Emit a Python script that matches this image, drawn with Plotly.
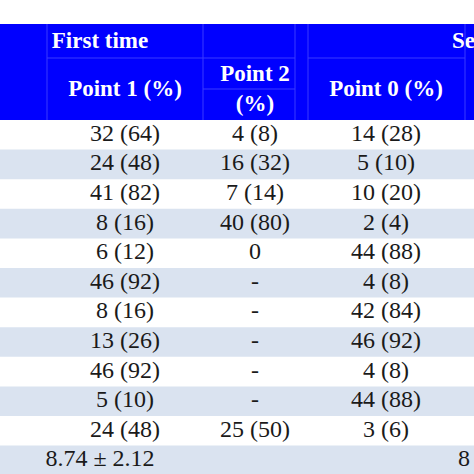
import plotly.graph_objects as go

title = "Edmonton frailty scale (EFS) completion (n= 50)"
group_labels = ["First time", "Second time"]
col_headers = ["Point 0 (%)", "Point 1 (%)", "Point 2<br>(%)", "Point 0 (%)"]
left_col = [")", ")", "", "", ")", "", ")", ")", "", ")", "", ""]
point1 = ["32 (64)", "24 (48)", "41 (82)", "8 (16)", "6 (12)", "46 (92)", "8 (16)",
          "13 (26)", "46 (92)", "5 (10)", "24 (48)", "8.74 ± 2.12"]
point2 = ["4 (8)", "16 (32)", "7 (14)", "40 (80)", "0", "-", "-", "-", "-", "-", "25 (50)", ""]
second0 = ["14 (28)", "5 (10)", "10 (20)", "2 (4)", "44 (88)", "4 (8)", "42 (84)",
           "46 (92)", "4 (8)", "44 (88)", "3 (6)", ""]
right_col = [""] * 11 + ["8"]

# geometry in pixels
W = 474
head_top, head_mid, head_bot = 24, 58, 120
row_h = 29.6
lines_x = [47, 203, 295, 308, 465]
BLUE = "#0000ff"
STRIPE = "#dae3f0"
FONT = "Liberation Serif"


def bold(items):
    return ["<b>" + t + "</b>" if t else t for t in items]


n = len(point1)
row_y = [head_bot + row_h * (i + 0.5) for i in range(n)]

fig = go.Figure()
shapes = [dict(type="rect", x0=0, x1=W, y0=head_top, y1=head_bot, fillcolor=BLUE, line_width=0, layer="below")]
for i in range(n):
    if i % 2 == 1:
        shapes.append(dict(type="rect", x0=0, x1=W, y0=head_bot + row_h * i, y1=head_bot + row_h * (i + 1),
                           fillcolor=STRIPE, line_width=0, layer="below"))
for x in lines_x:
    shapes.append(dict(type="line", x0=x, x1=x, y0=head_top, y1=head_bot, line=dict(color="#3a3aff", width=1)))
shapes.append(dict(type="line", x0=47, x1=295, y0=head_mid, y1=head_mid, line=dict(color="#3a3aff", width=1)))
shapes.append(dict(type="line", x0=308, x1=465, y0=head_mid, y1=head_mid, line=dict(color="#3a3aff", width=1)))
shapes.append(dict(type="line", x0=203, x1=295, y0=89, y1=89, line=dict(color="#3a3aff", width=1)))

# title
fig.add_trace(go.Scatter(x=[-12], y=[11], mode="text", text=bold([title]), textposition="middle right",
                         textfont=dict(family=FONT, size=24, color="black"), cliponaxis=False, hoverinfo="skip"))
# header texts
fig.add_trace(go.Scatter(x=[100, 452], y=[42, 42], mode="text", text=bold(group_labels),
                         textposition=["middle center", "middle right"],
                         textfont=dict(family=FONT, size=23, color="white"), cliponaxis=False, hoverinfo="skip"))
fig.add_trace(go.Scatter(x=[-30, 125, 255, 386], y=[90, 90, 90, 90], mode="text", text=bold(col_headers),
                         textposition="middle center",
                         textfont=dict(family=FONT, size=23, color="white"), cliponaxis=False, hoverinfo="skip"))
# body
body_font = dict(family=FONT, size=24, color="#1a1a1a")
fig.add_trace(go.Scatter(x=[-3] * n, y=row_y, mode="text", text=left_col, textposition="middle right",
                         textfont=body_font, cliponaxis=False, hoverinfo="skip"))
fig.add_trace(go.Scatter(x=[125] * (n - 1) + [100], y=row_y, mode="text", text=point1, textposition="middle center",
                         textfont=body_font, cliponaxis=False, hoverinfo="skip"))
fig.add_trace(go.Scatter(x=[255] * n, y=row_y, mode="text", text=point2, textposition="middle center",
                         textfont=body_font, cliponaxis=False, hoverinfo="skip"))
fig.add_trace(go.Scatter(x=[386] * n, y=row_y, mode="text", text=second0, textposition="middle center",
                         textfont=body_font, cliponaxis=False, hoverinfo="skip"))
fig.add_trace(go.Scatter(x=[458] * n, y=row_y, mode="text", text=right_col, textposition="middle right",
                         textfont=body_font, cliponaxis=False, hoverinfo="skip"))

fig.update_layout(
    width=W, height=W, margin=dict(l=0, r=0, t=0, b=0),
    paper_bgcolor="white", plot_bgcolor="white", showlegend=False, shapes=shapes,
    xaxis=dict(range=[0, W], visible=False, fixedrange=True),
    yaxis=dict(range=[W, 0], visible=False, fixedrange=True),
)

fig.write_html("out.html", config={"displayModeBar": False},
               post_script="document.body.style.margin='0';document.body.style.overflow='hidden';")
